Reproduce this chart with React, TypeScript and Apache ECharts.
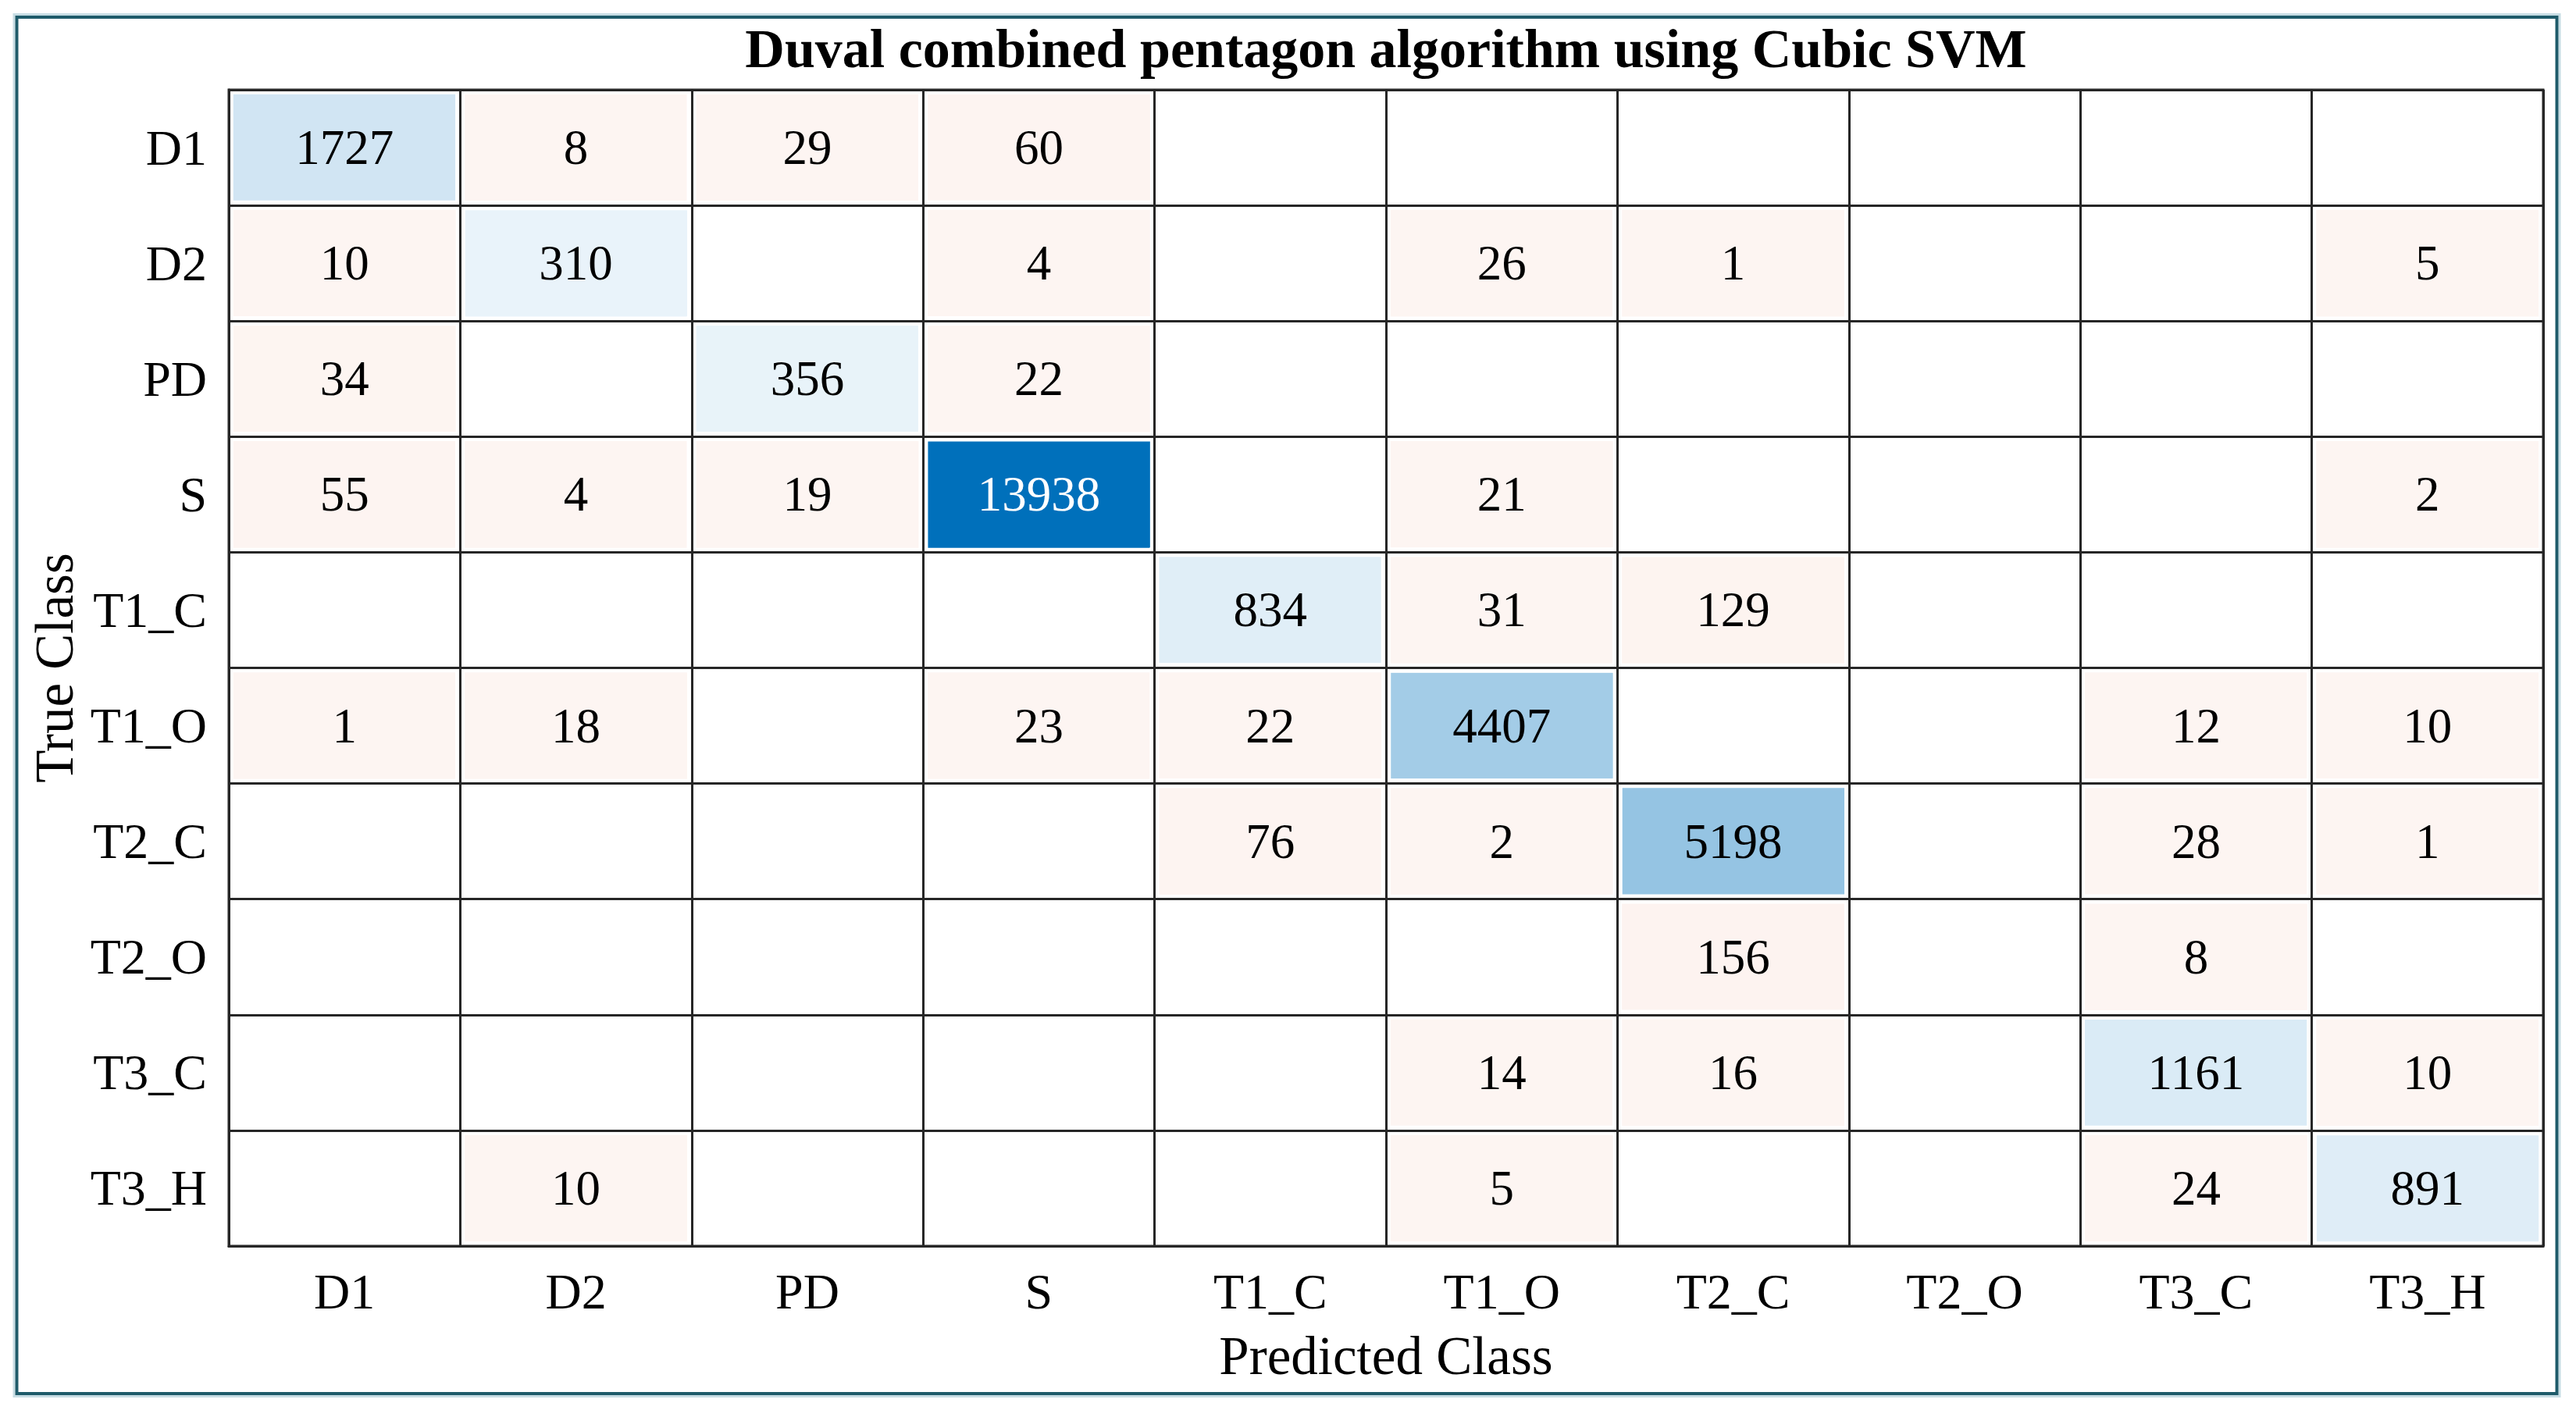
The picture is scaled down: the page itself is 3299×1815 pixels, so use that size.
import React, { useEffect, useRef } from 'react';
import * as echarts from 'echarts';

const CLASSES = ['D1', 'D2', 'PD', 'S', 'T1_C', 'T1_O', 'T2_C', 'T2_O', 'T3_C', 'T3_H'];

// rows = true class, columns = predicted class (0 = empty cell)
const TRUE_D1 = [1727, 8, 29, 60, 0, 0, 0, 0, 0, 0];
const TRUE_D2 = [10, 310, 0, 4, 0, 26, 1, 0, 0, 5];
const TRUE_PD = [34, 0, 356, 22, 0, 0, 0, 0, 0, 0];
const TRUE_S = [55, 4, 19, 13938, 0, 21, 0, 0, 0, 2];
const TRUE_T1_C = [0, 0, 0, 0, 834, 31, 129, 0, 0, 0];
const TRUE_T1_O = [1, 18, 0, 23, 22, 4407, 0, 0, 12, 10];
const TRUE_T2_C = [0, 0, 0, 0, 76, 2, 5198, 0, 28, 1];
const TRUE_T2_O = [0, 0, 0, 0, 0, 0, 156, 0, 8, 0];
const TRUE_T3_C = [0, 0, 0, 0, 0, 14, 16, 0, 1161, 10];
const TRUE_T3_H = [0, 10, 0, 0, 0, 5, 0, 0, 24, 891];

const CONFUSION = [
  TRUE_D1, TRUE_D2, TRUE_PD, TRUE_S, TRUE_T1_C,
  TRUE_T1_O, TRUE_T2_C, TRUE_T2_O, TRUE_T3_C, TRUE_T3_H,
];

const TITLE = 'Duval combined pentagon algorithm using Cubic SVM';
const X_NAME = 'Predicted Class';
const Y_NAME = 'True Class';

const FONT = 'Liberation Serif';

export default function App() {
  const ref = useRef<HTMLDivElement>(null);

  useEffect(() => {
    if (!ref.current) return;
    const chart = echarts.init(ref.current, null, { renderer: 'svg' });

    const maxV = Math.max(...CONFUSION.flat());
    const diag: any[] = [];
    const off: any[] = [];
    CONFUSION.forEach((row, r) =>
      row.forEach((v, c) => {
        if (!v) return;
        const item: any = { value: [c, r, v] };
        if (v > maxV * 0.5) item.label = { color: '#ffffff' };
        (r === c ? diag : off).push(item);
      })
    );

    const lineColor = '#262626';

    const cellLabel = {
      show: true,
      fontSize: 63,
      fontFamily: FONT,
      color: '#000000',
      formatter: (p: any) => String(p.value[2]),
    };

    chart.setOption({
      animation: false,
      backgroundColor: '#ffffff',
      textStyle: { fontFamily: FONT },
      grid: {
        left: 293,
        right: 42,
        top: 115,
        bottom: 219,
        show: true,
        z: 5,
        backgroundColor: 'transparent',
        borderColor: lineColor,
        borderWidth: 3,
      },
      xAxis: {
        type: 'category',
        data: CLASSES,
        position: 'bottom',
        z: 5,
        axisLine: { show: true, lineStyle: { color: lineColor, width: 3 } },
        axisTick: { show: false },
        axisLabel: { interval: 0, fontSize: 64, fontFamily: FONT, color: '#000', margin: 26 },
        splitLine: { show: true, interval: 0, lineStyle: { color: lineColor, width: 3 } },
        name: X_NAME,
        nameLocation: 'middle',
        nameGap: 106,
        nameTextStyle: { fontSize: 69, fontFamily: FONT, color: '#000' },
      },
      yAxis: {
        type: 'category',
        data: CLASSES,
        inverse: true,
        z: 5,
        axisLine: { show: true, lineStyle: { color: lineColor, width: 3 } },
        axisTick: { show: false },
        axisLabel: { interval: 0, fontSize: 64, fontFamily: FONT, color: '#000', margin: 28 },
        splitLine: { show: true, interval: 0, lineStyle: { color: lineColor, width: 3 } },
        name: Y_NAME,
        nameLocation: 'middle',
        nameGap: 176,
        nameTextStyle: { fontSize: 69, fontFamily: FONT, color: '#000' },
      },
      visualMap: [
        {
          type: 'continuous',
          show: false,
          seriesIndex: 0,
          dimension: 2,
          min: 0,
          max: maxV,
          inRange: { color: ['#eef6fb', '#0070bb'] },
        },
        {
          type: 'continuous',
          show: false,
          seriesIndex: 1,
          dimension: 2,
          min: 0,
          max: maxV,
          inRange: { color: ['#fdf5f2', '#d95319'] },
        },
      ],
      series: [
        {
          name: 'correct',
          type: 'heatmap',
          data: diag,
          z: 2,
          label: cellLabel,
          itemStyle: { borderColor: '#ffffff', borderWidth: 12 },
        },
        {
          name: 'misclassified',
          type: 'heatmap',
          data: off,
          z: 2,
          label: cellLabel,
          itemStyle: { borderColor: '#ffffff', borderWidth: 12 },
        },
      ],
      graphic: [
        {
          type: 'rect',
          z: 0,
          shape: { x: 18, y: 18.5, width: 3260, height: 1770 },
          style: { fill: 'none', stroke: '#c7dde4', lineWidth: 3 },
          silent: true,
        },
        {
          type: 'rect',
          z: 1,
          shape: { x: 21.5, y: 22, width: 3253, height: 1763 },
          style: { fill: 'none', stroke: '#1f5b6a', lineWidth: 4 },
          silent: true,
        },
        {
          type: 'text',
          z: 10,
          x: 1775,
          y: 62,
          style: {
            text: TITLE,
            fontSize: 70,
            fontWeight: 'bold',
            fontFamily: FONT,
            fill: '#000000',
            align: 'center',
            verticalAlign: 'middle',
          },
          silent: true,
        },
      ],
    });

    return () => chart.dispose();
  }, []);

  return (
    <div
      ref={ref}
      style={{ position: 'fixed', left: 0, top: 0, width: '100vw', height: '100vh' }}
    />
  );
}
